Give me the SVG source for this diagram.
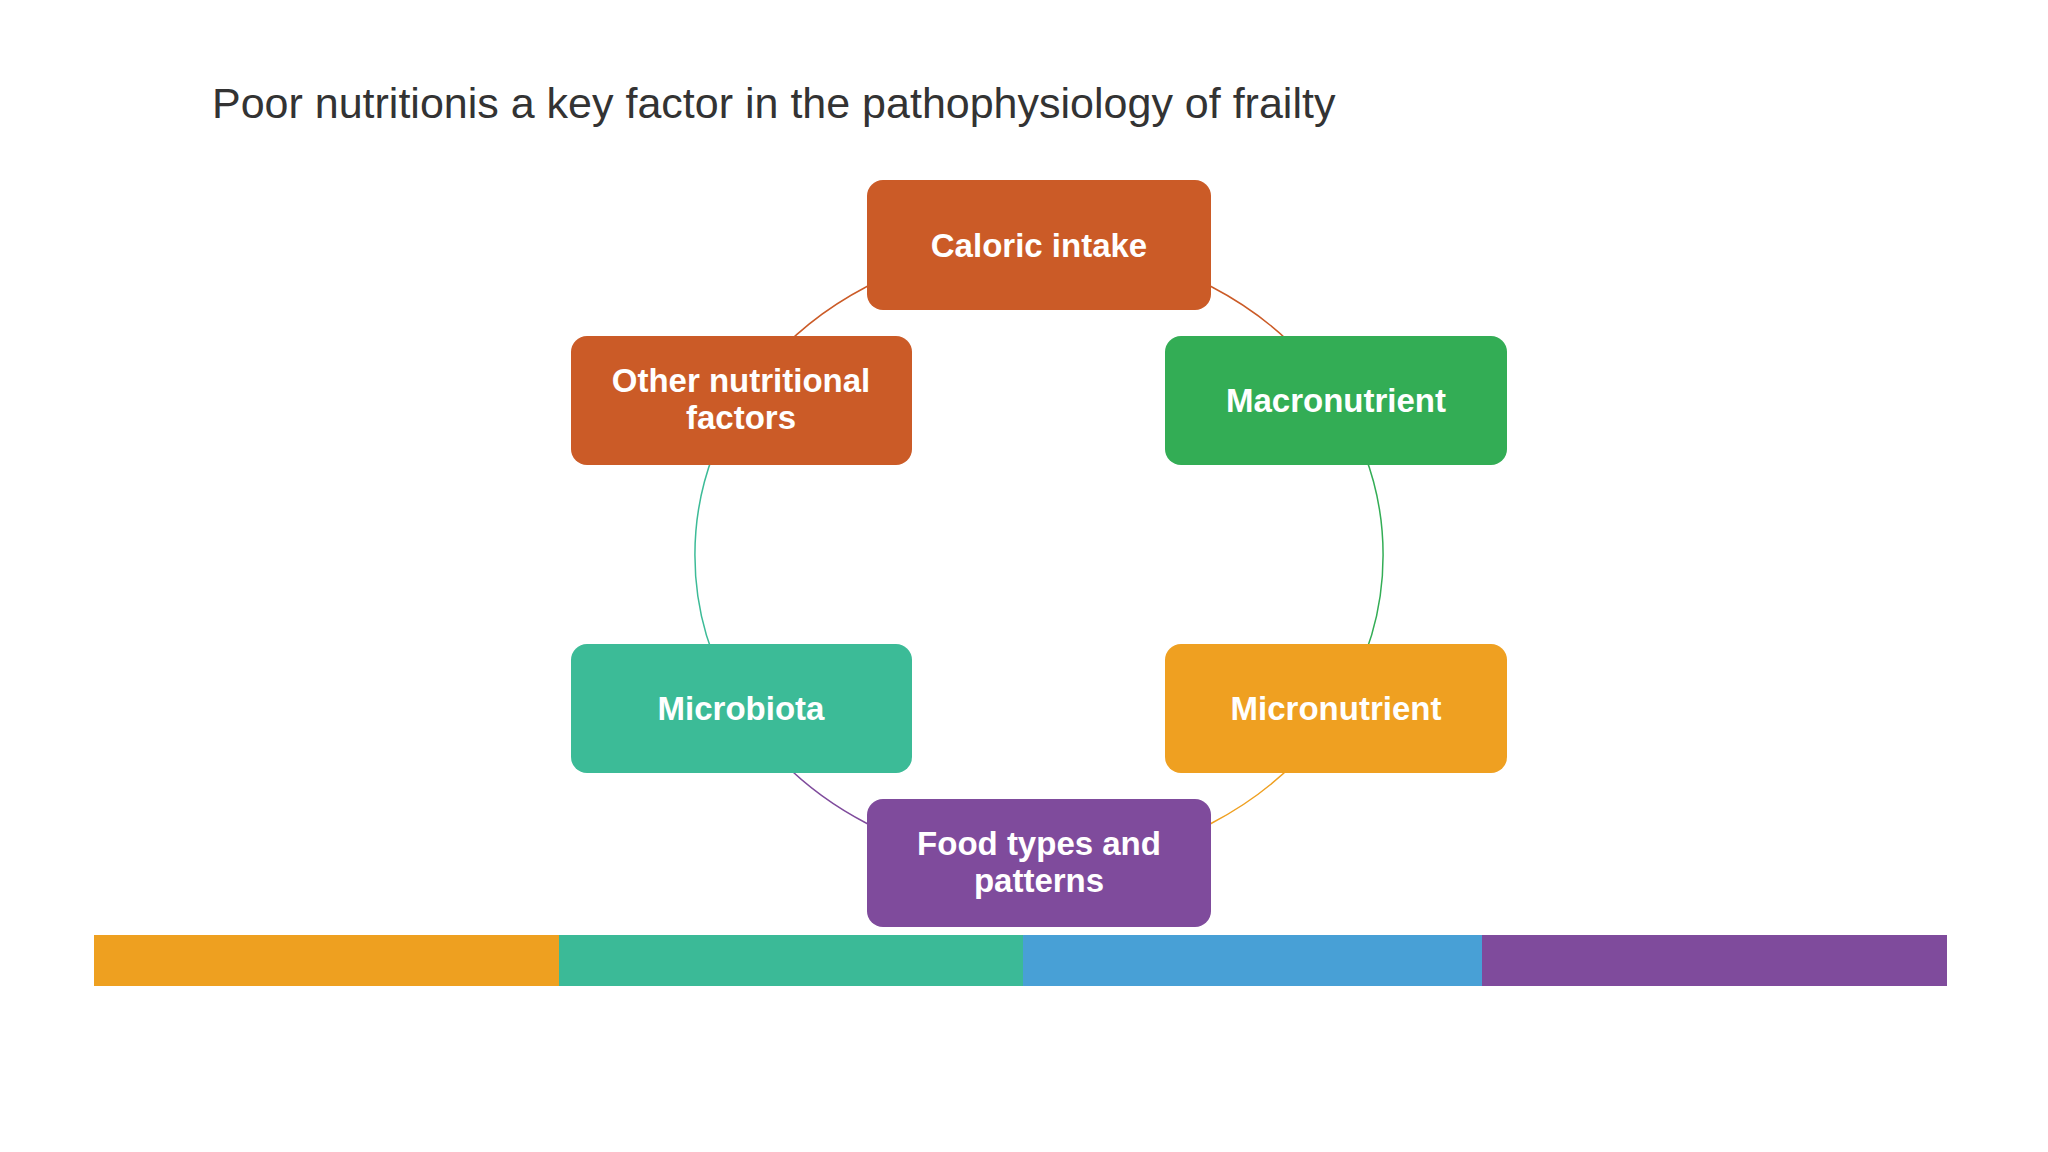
<svg xmlns="http://www.w3.org/2000/svg" width="2048" height="1152" viewBox="0 0 2048 1152">
<style>
.t{font-family:"Liberation Sans",Arial,sans-serif;font-weight:bold;font-size:33px;fill:#fff;text-anchor:middle}
.a{fill:none;stroke-width:1.5}
</style>
<rect width="2048" height="1152" fill="#fff"/>
<text x="212" y="118" font-family="'Liberation Sans',Arial,sans-serif" font-size="43" fill="#333">Poor nutritionis a key factor in the pathophysiology of frailty</text>
<g id="connectors">
<path class="a" stroke="#CB5B27" d="M1039,245 A344,310 0 0 1 1337,400"/>
<path class="a" stroke="#33AD55" d="M1337,400 A344,310 0 0 1 1337,710"/>
<path class="a" stroke="#EFA021" d="M1337,710 A344,310 0 0 1 1039,865"/>
<path class="a" stroke="#7F4B9C" d="M1039,865 A344,310 0 0 1 741,710"/>
<path class="a" stroke="#3CBB97" d="M741,710 A344,310 0 0 1 741,400"/>
<path class="a" stroke="#CB5B27" d="M741,400 A344,310 0 0 1 1039,245"/>
</g>
<g id="caloric"><rect x="867" y="180" width="344" height="130" rx="16" fill="#CB5B27"/><text class="t" x="1039" y="257">Caloric intake</text></g>
<g id="macro"><rect x="1165" y="336" width="342" height="129" rx="16" fill="#33AD55"/><text class="t" x="1336" y="412">Macronutrient</text></g>
<g id="other"><rect x="571" y="336" width="341" height="129" rx="16" fill="#CB5B27"/><text class="t" x="741" y="392">Other nutritional</text><text class="t" x="741" y="429">factors</text></g>
<g id="microbiota"><rect x="571" y="644" width="341" height="129" rx="16" fill="#3CBB97"/><text class="t" x="741" y="720">Microbiota</text></g>
<g id="micro"><rect x="1165" y="644" width="342" height="129" rx="16" fill="#EFA021"/><text class="t" x="1336" y="720">Micronutrient</text></g>
<g id="food"><rect x="867" y="799" width="344" height="128" rx="16" fill="#7F4B9C"/><text class="t" x="1039" y="855">Food types and</text><text class="t" x="1039" y="892">patterns</text></g>
<g id="bar">
<rect x="94" y="935" width="465" height="51" fill="#EEA020"/>
<rect x="559" y="935" width="464" height="51" fill="#3BBA97"/>
<rect x="1023" y="935" width="459" height="51" fill="#48A0D6"/>
<rect x="1482" y="935" width="465" height="51" fill="#7F4B9C"/>
</g>
</svg>
